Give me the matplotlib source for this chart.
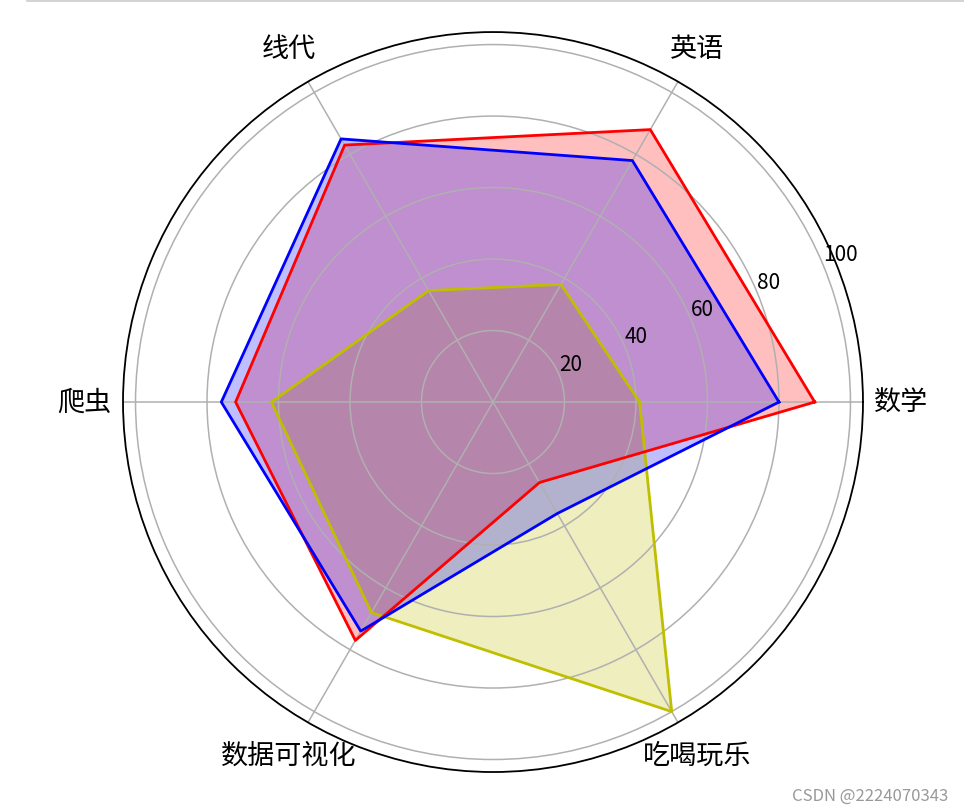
import numpy as np
import matplotlib
matplotlib.use("Agg")
import matplotlib.pyplot as plt
from matplotlib.lines import Line2D

plt.rcParams['font.family'] = ['Noto Sans CJK SC', 'DejaVu Sans']
plt.rcParams['axes.unicode_minus'] = False

# subjects and scores of the three students
subjects = ['数学', '英语', '线代', '爬虫', '数据可视化', '吃喝玩乐']
scores_yellow = [41, 38, 36, 62, 68, 100]
scores_red = [90, 88, 83, 72, 77, 26]
scores_blue = [80, 78, 85, 76, 74, 36]
colors = ['y', 'r', 'b']

n = len(subjects)
angles = np.linspace(0, 2 * np.pi, n, endpoint=False)
angles_closed = np.concatenate((angles, [angles[0]]))

fig = plt.figure(figsize=(9.64, 8.12), dpi=100)
ax = fig.add_axes([0.1276, 0.048, 0.7676, 0.9113], polar=True)

for scores, c in zip([scores_yellow, scores_red, scores_blue], colors):
    vals = np.concatenate((scores, [scores[0]]))
    ax.plot(angles_closed, vals, color=c, linewidth=2)
    ax.fill(angles_closed, vals, color=c, alpha=0.25)

ax.set_thetagrids(angles * 180 / np.pi, subjects, fontsize=19.5)
ax.tick_params(axis='x', pad=17)
ax.set_ylim(0, 103.5)
ax.set_yticks([20, 40, 60, 80, 100])
ax.tick_params(axis='y', labelsize=15)
ax.grid(True, color='#b0b0b0', linewidth=1.1)
ax.spines['polar'].set_linewidth(1.3)

# notebook cell border and watermark
fig.add_artist(Line2D([27 / 964, 1.0], [1 - 2 / 812, 1 - 2 / 812],
                      transform=fig.transFigure, color='#cccccc', lw=1.2))
fig.text(948 / 964, 1 - 796 / 812, 'CSDN @2224070343', ha='right', va='center',
         fontsize=12, color='#999999')

fig.savefig('out.png', dpi=100)
